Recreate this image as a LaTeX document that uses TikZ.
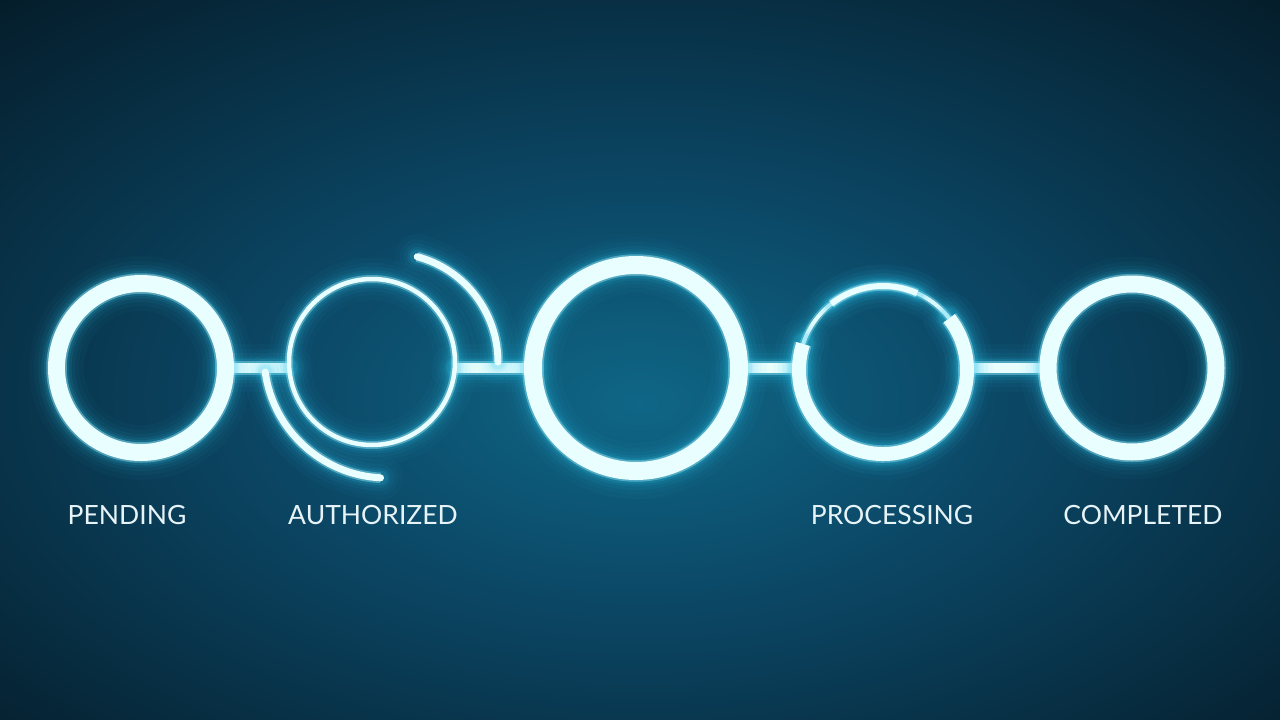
\documentclass[tikz,border=0pt]{standalone}
\usepackage{fontspec}
\setmainfont{Lato}
\usetikzlibrary{calc}
\definecolor{bgin}{HTML}{0F6686}
\definecolor{bgmid}{HTML}{0B4664}
\definecolor{bgout}{HTML}{041722}
\definecolor{glowc}{HTML}{2FC8EC}
\definecolor{corec}{HTML}{E8FEFF}
\definecolor{txt}{HTML}{E6F3F7}
\pgfdeclareradialshading{bgshade}{\pgfpoint{0bp}{-3bp}}{color(0bp)=(bgin); color(15bp)=(bgmid); color(40bp)=(bgout); color(100bp)=(bgout)}
\pgfdeclarelayer{bglayer}
\pgfdeclarelayer{links}
\pgfsetlayers{bglayer,links,main}
\tikzset{
  glow/.style={
    preaction={draw=glowc, line width=#1+38pt, opacity=0.03, line cap=round},
    preaction={draw=glowc, line width=#1+28pt, opacity=0.04, line cap=round},
    preaction={draw=glowc, line width=#1+20pt, opacity=0.06, line cap=round},
    preaction={draw=glowc, line width=#1+13pt, opacity=0.09, line cap=round},
    preaction={draw=glowc, line width=#1+8pt, opacity=0.15, line cap=round},
    preaction={draw=glowc!50!white, line width=#1+3.5pt, opacity=0.45},
    draw=corec, line width=#1},
  ring/.style={circle, inner sep=0pt, outer sep=0pt, minimum size=#1},
  arcline/.style={glow=#1, line cap=round},
  flatarc/.style={glow=#1, line cap=butt},
  stagetext/.style={text=txt, inner sep=0pt, font=\fontsize{26.5}{32}\selectfont}
}
\begin{document}
\begin{tikzpicture}[x=1pt,y=-1pt]
\begin{pgfonlayer}{bglayer}
\shade[shading=bgshade] (0,0) rectangle (1280,720);
\end{pgfonlayer}
\useasboundingbox (0,0) rectangle (1280,720);

% stages
\node[ring=169pt, glow=17pt] (n1) at (141,368) {};
\node[ring=166pt, glow=4.5pt] (n2) at (372,362) {};
\node[ring=206pt, glow=18pt] (n3) at (636,368) {};
\node[ring=168pt, glow=4pt] (n4) at (883,370) {};
\node[ring=168pt, glow=17pt] (n5) at (1132,368) {};

% connectors
\begin{pgfonlayer}{links}
\draw[glow=10pt] (n1.east) -- (n1.east -| n2.west);
\draw[glow=10pt] (n3.west -| n2.east) -- (n3.west);
\draw[glow=10pt] (n3.east) -- (n3.east -| n4.west);
\draw[glow=10pt] (n5.west -| n4.east) -- (n5.west);
\end{pgfonlayer}

% orbit arcs around the second stage
\coordinate (ou) at (389,362);
\coordinate (ol) at (387,355);
\draw[arcline=7pt] ([shift={(-75:109)}]ou) arc[start angle=-75, end angle=0, radius=109];
\draw[arcline=7pt] ([shift={(-188:123)}]ol) arc[start angle=-188, end angle=-267, radius=123];

% partial thick ring of the fourth stage
\draw[flatarc=6pt] ([shift={(-128:84)}]n4.center) arc[start angle=-128, end angle=-66, radius=84];
\draw[flatarc=14pt] ([shift={(-162:84)}]n4.center) arc[start angle=-162, end angle=-398, radius=84];

% labels
\node[stagetext] (l1) at (127,515) {PENDING};
\node[stagetext] (l2) at (373,515) {AUTHORIZED};
\node[stagetext] (l4) at (892,515) {PROCESSING};
\node[stagetext] (l5) at (1143,515) {COMPLETED};
\end{tikzpicture}
\end{document}
